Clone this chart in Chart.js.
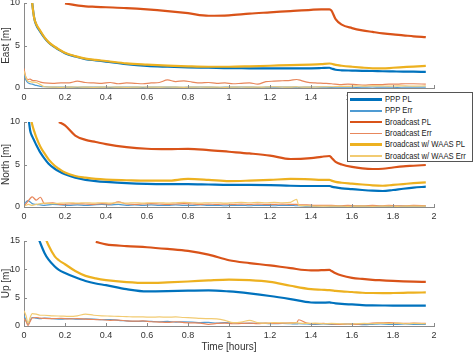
<!DOCTYPE html>
<html>
<head>
<meta charset="utf-8">
<script src="https://cdn.jsdelivr.net/npm/chart.js@4.4.1/dist/chart.umd.min.js"></script>
<style>
  html, body { margin: 0; padding: 0; background: #fff; }
  #wrap { position: relative; width: 474px; height: 353px; overflow: hidden; }
  canvas { position: absolute; left: 0; }
  #legend {
    position: absolute; left: 347px; top: 92px; width: 124px; height: 68px;
    border: 1px solid #555; background: #fff;
    font-family: "Liberation Sans", Arial, sans-serif; font-size: 9px; color: #222;
  }
  .row { position: absolute; left: 0; height: 11px; width: 124px; }
  .row i { position: absolute; left: 2px; width: 32px; top: 50%; }
  .row span { position: absolute; left: 37px; top: 0; line-height: 11px; white-space: nowrap;
    transform: scaleX(0.85); transform-origin: left center; }
</style>
</head>
<body>
<div id="wrap">
  <canvas id="eastChart" width="474" height="105" style="top:0px"></canvas>
  <canvas id="northChart" width="474" height="118" style="top:106px"></canvas>
  <canvas id="upChart" width="474" height="129" style="top:224px"></canvas>
  <div id="legend"></div>
</div>
<script>
// series names / colours
const seriesNames = ['PPP PL', 'PPP Err', 'Broadcast PL', 'Broadcast Err', 'Broadcast w/ WAAS PL', 'Broadcast w/ WAAS Err'];
const seriesColors = ['#0072BD', '#4F9BD3', '#D95319', '#E8875C', '#EDB120', '#F2CB72'];

// time axis (hours)
const plTime = [0.02,0.03,0.04,0.05,0.06,0.08,0.1,0.12,0.15,0.17,
  0.2,0.25,0.3,0.35,0.4,0.5,0.6,0.7,0.8,0.9,
  1.0,1.1,1.2,1.3,1.4,1.45,1.49,1.5,1.52,1.55,
  1.6,1.65,1.7,1.75,1.8,1.85,1.9,1.96];
const errTime = [0,0.01,0.02,0.03,0.04,0.06,0.08,0.1,0.14,0.18,0.22,
  0.26,0.3,0.34,0.38,0.42,0.46,0.5,0.54,0.58,0.62,0.66,
  0.7,0.74,0.78,0.82,0.86,0.9,0.94,0.98,1.02,1.06,1.1,
  1.14,1.18,1.22,1.26,1.3,1.33,1.34,1.38,1.42,1.46,1.5,
  1.54,1.58,1.62,1.66,1.7,1.74,1.78,1.82,1.86,1.9,1.96];

// East [m]
const eastPppPL = [15,12.5,10,8.2,7.4,6.6,5.9,5.35,4.8,4.5,
  4.1,3.7,3.4,3.25,3.1,2.8,2.6,2.5,2.42,2.38,
  2.33,2.32,2.3,2.3,2.32,2.35,2.38,2.3,2.15,2.08,
  2.05,2.02,2.0,1.97,1.95,1.93,1.92,1.9];
const eastPppErr = [1.6,0.9,0.6,0.5,0.45,0.3,0.2,0.15,0.1,0.12,0.1,
  0.08,0.1,0.12,0.1,0.08,0.1,0.12,0.1,0.08,0.1,0.12,
  0.1,0.1,0.08,0.1,0.12,0.1,0.08,0.1,0.1,0.12,0.1,
  0.08,0.1,0.1,0.12,0.1,0.1,0.08,0.1,0.12,0.1,0.08,
  0.1,0.1,0.08,0.1,0.12,0.1,0.1,0.08,0.1,0.1,0.1];
const eastBcPL = [null,null,null,null,null,null,null,null,null,null,
  9.95,9.75,9.6,9.55,9.5,9.4,9.25,9.05,8.8,8.5,
  8.55,8.75,8.9,9.05,9.2,9.25,9.25,9.1,8.1,7.45,
  7.05,6.78,6.6,6.43,6.3,6.2,6.08,5.98];
const eastBcErr = [2.3,1.2,1.0,1.05,0.9,0.85,0.7,0.6,0.55,0.6,0.6,
  0.8,0.65,0.6,0.55,0.65,0.5,0.6,0.55,0.5,0.6,0.65,
  0.95,0.75,0.85,0.7,0.6,0.65,0.55,0.6,0.5,0.55,0.6,
  0.45,0.75,0.8,0.85,0.9,1.0,0.95,0.7,0.6,0.55,0.5,
  0.4,0.45,0.4,0.35,0.4,0.4,0.45,0.45,0.5,0.5,0.45];
const eastWaasPL = [16,13,10,8.2,7.5,6.7,5.95,5.4,4.85,4.55,
  4.15,3.75,3.45,3.3,3.18,2.9,2.75,2.63,2.55,2.5,
  2.5,2.55,2.62,2.7,2.75,2.8,2.88,2.85,2.72,2.62,
  2.5,2.4,2.32,2.3,2.38,2.45,2.52,2.6];
const eastWaasErr = [2.0,1.2,0.8,0.75,0.7,0.65,0.4,0.15,0.1,0.08,0.1,
  0.12,0.1,0.08,0.1,0.12,0.1,0.08,0.1,0.12,0.1,0.1,
  0.12,0.1,0.08,0.1,0.12,0.1,0.1,0.08,0.1,0.12,0.1,
  0.1,0.12,0.15,0.12,0.1,0.15,0.12,0.1,0.12,0.15,0.15,
  0.2,0.2,0.25,0.22,0.25,0.25,0.22,0.25,0.25,0.22,0.25];

// North [m]
const northPppPL = [11,9.0,8.3,7.8,7.3,6.4,5.7,5.1,4.5,4.2,
  3.85,3.45,3.2,3.05,2.95,2.8,2.72,2.7,2.7,2.65,
  2.6,2.6,2.58,2.5,2.47,2.47,2.47,2.4,2.3,2.2,
  2.1,2.0,1.92,1.88,2.0,2.15,2.28,2.39];
const northPppErr = [0.3,0.6,0.75,0.6,0.4,0.3,0.25,0.2,0.3,0.25,0.2,
  0.25,0.2,0.25,0.3,0.25,0.3,0.2,0.25,0.2,0.25,0.2,
  0.2,0.25,0.2,0.2,0.25,0.2,0.2,0.15,0.2,0.2,0.15,
  0.2,0.2,0.15,0.2,0.2,0.15,0.15,0.1,0.1,0.15,0.1,
  0.1,0.1,0.1,0.1,0.1,0.1,0.08,0.1,0.1,0.1,0.1];
const northBcPL = [null,null,null,null,null,null,null,null,null,10.0,
  9.6,8.4,7.9,7.65,7.4,7.05,6.85,6.8,6.85,6.7,
  6.5,6.3,6.05,5.65,5.75,5.9,6.0,5.8,5.3,5.0,
  4.72,4.55,4.47,4.5,4.65,4.78,4.85,4.94];
const northBcErr = [0.1,0.4,0.7,1.0,1.2,0.8,1.15,0.4,0.5,0.3,0.35,
  0.4,0.35,0.3,0.4,0.35,0.6,0.35,0.3,0.35,0.4,0.35,
  0.3,0.35,0.4,0.35,0.3,0.35,0.3,0.35,0.3,0.35,0.3,
  0.35,0.3,0.3,0.35,0.3,0.3,0.25,0.25,0.2,0.2,0.2,
  0.15,0.2,0.15,0.15,0.2,0.15,0.2,0.15,0.15,0.2,0.15];
const northWaasPL = [13,11,9.7,8.9,8.2,7.1,6.3,5.6,4.85,4.5,
  4.05,3.65,3.45,3.3,3.22,3.15,3.1,3.1,3.3,3.2,
  3.05,3.1,3.18,3.3,3.25,3.2,3.2,3.1,2.95,2.85,
  2.75,2.65,2.55,2.5,2.6,2.7,2.8,2.9];
const northWaasErr = [0.1,0.2,0.3,0.25,0.2,0.3,0.4,0.45,0.4,0.45,0.5,
  0.45,0.5,0.45,0.5,0.45,0.5,0.45,0.5,0.45,0.5,0.5,
  0.45,0.5,0.55,0.5,0.45,0.5,0.5,0.45,0.5,0.55,0.5,
  0.55,0.5,0.55,0.5,0.55,0.9,0.2,0.15,0.1,0.1,0.1,
  0.1,0.08,0.1,0.1,0.08,0.1,0.1,0.08,0.1,0.1,0.1];

// Up [m]
const upPppPL = [25,22,20,18,16.6,14.6,12.9,11.7,10.5,9.9,
  9.35,8.6,7.95,7.5,7.2,6.5,6.1,6.15,6.25,6.3,
  6.1,5.75,5.3,4.75,4.15,4.12,4.16,4.1,4.0,3.9,
  3.8,3.7,3.65,3.62,3.6,3.6,3.6,3.6];
const upPppErr = [1.8,1.0,0.3,1.0,1.5,1.4,1.3,1.4,1.3,1.2,1.3,
  1.2,1.25,1.2,1.1,1.15,1.0,0.9,0.8,0.85,0.8,0.75,
  0.8,0.7,0.75,0.7,0.6,0.65,0.5,0.6,0.55,0.5,0.45,
  0.5,0.45,0.4,0.45,0.4,0.35,0.4,0.35,0.3,0.35,0.3,
  0.3,0.35,0.3,0.25,0.3,0.35,0.3,0.3,0.35,0.3,0.3];
const upBcPL = [null,null,null,null,null,null,null,null,null,null,
  null,null,null,14.85,14.4,14.1,13.9,13.6,13.25,12.6,
  11.6,11.1,10.7,10.2,9.8,9.85,9.9,9.7,9.3,8.9,
  8.5,8.3,8.15,8.05,7.95,7.88,7.83,7.79];
const upBcErr = [1.3,0.8,0.1,0.8,1.4,1.5,1.4,1.35,1.3,1.35,1.25,
  1.3,1.2,1.15,1.1,1.0,1.05,0.9,0.85,0.9,0.75,0.7,
  0.65,0.75,0.6,0.55,0.5,0.3,0.45,0.5,0.4,0.45,0.5,
  0.4,0.5,0.45,0.5,0.55,0.6,1.1,0.5,0.4,0.45,0.35,
  0.3,0.35,0.3,0.4,0.5,0.55,0.6,0.5,0.45,0.5,0.45];
const upWaasPL = [30,28,26,24,22,18.5,16,14.2,12.3,11.6,
  10.9,9.7,8.85,8.4,8.1,7.75,7.6,7.7,7.85,8.05,
  8.2,8.1,7.8,7.1,6.5,6.4,6.33,6.3,6.2,6.1,
  6.0,5.87,5.82,5.8,5.82,5.85,5.9,5.92];
const upWaasErr = [2.7,1.8,0.5,1.5,2.2,2.1,1.9,1.9,1.8,1.75,1.7,
  1.8,2.1,1.9,1.8,1.75,1.7,1.65,1.6,1.6,1.55,1.6,
  1.55,1.6,1.5,1.45,1.35,1.3,1.25,1.0,0.6,0.7,1.0,
  0.6,0.5,0.6,0.55,0.5,0.6,0.5,0.45,0.5,0.4,0.45,
  0.4,0.35,0.4,0.45,0.4,0.5,0.45,0.5,0.4,0.45,0.4];

const xTicks = { min: 0, max: 2, step: 0.2 };
const fontFamily = "'Liberation Sans', Arial, sans-serif";
const axisColor = '#8a8a8a';
const textColor = '#333';

function pts(times, vals) {
  return times.map((t, i) => ({ x: t, y: vals[i] }));
}

// MATLAB style: ticks pointing into the plot
const inwardTicks = {
  id: 'inwardTicks',
  afterDraw(chart) {
    const { ctx, chartArea, scales } = chart;
    ctx.save();
    ctx.strokeStyle = axisColor;
    ctx.lineWidth = 1;
    ctx.beginPath();
    scales.x.ticks.forEach(t => {
      const px = Math.round(scales.x.getPixelForValue(t.value)) + 0.5;
      ctx.moveTo(px, chartArea.bottom);
      ctx.lineTo(px, chartArea.bottom - 3);
    });
    scales.y.ticks.forEach(t => {
      const py = Math.round(scales.y.getPixelForValue(t.value)) + 0.5;
      ctx.moveTo(chartArea.left, py);
      ctx.lineTo(chartArea.left + 3, py);
    });
    ctx.stroke();
    ctx.restore();
  }
};

function makeChart(id, yTitle, yMax, rows, padTop, xHeight, xTitle) {
  const datasets = rows.map((r, i) => ({
    label: seriesNames[i],
    data: pts(i % 2 === 0 ? plTime : errTime, r),
    borderColor: seriesColors[i],
    borderWidth: i % 2 === 0 ? 2.2 : 1.2,
    pointRadius: 0,
    fill: false,
    cubicInterpolationMode: 'monotone',
    order: rows.length - i
  }));

  return new Chart(document.getElementById(id).getContext('2d'), {
    type: 'line',
    data: { datasets },
    options: {
      responsive: false,
      animation: false,
      layout: { padding: { top: padTop, right: 40, bottom: 0, left: 0 } },
      plugins: { legend: { display: false }, tooltip: { enabled: false } },
      scales: {
        x: {
          type: 'linear',
          min: xTicks.min,
          max: xTicks.max,
          grid: { display: false, drawTicks: false },
          border: { color: axisColor },
          ticks: { stepSize: xTicks.step, autoSkip: false, maxRotation: 0, padding: 4,
                   color: textColor, font: { family: fontFamily, size: 9 },
                   callback: v => String(Math.round(v * 10) / 10) },
          title: { display: !!xTitle, text: xTitle || '', padding: 0, color: textColor,
                   font: { family: fontFamily, size: 10 } },
          afterFit: s => { s.height = xHeight; }
        },
        y: {
          min: 0,
          max: yMax,
          grid: { display: false, drawTicks: false },
          border: { color: axisColor },
          ticks: { stepSize: 5, padding: 4, color: textColor, font: { family: fontFamily, size: 9 } },
          title: { display: true, text: yTitle, padding: 0, color: textColor,
                   font: { family: fontFamily, size: 10 } },
          afterFit: s => { s.width = 24; s.paddingTop = 0; s.paddingBottom = 0; }
        }
      }
    },
    plugins: [inwardTicks]
  });
}

makeChart('eastChart', 'East [m]', 10,
  [eastPppPL, eastPppErr, eastBcPL, eastBcErr, eastWaasPL, eastWaasErr], 3, 17);
makeChart('northChart', 'North [m]', 10,
  [northPppPL, northPppErr, northBcPL, northBcErr, northWaasPL, northWaasErr], 16, 17);
makeChart('upChart', 'Up [m]', 15,
  [upPppPL, upPppErr, upBcPL, upBcErr, upWaasPL, upWaasErr], 17, 27, 'Time [hours]');

// legend box overlaid on the middle panel
const legend = document.getElementById('legend');
seriesNames.forEach((name, i) => {
  const row = document.createElement('div');
  row.className = 'row';
  row.style.top = (1 + i * 11.3) + 'px';
  const line = document.createElement('i');
  const w = i % 2 === 0 ? 2.5 : 1.5;
  line.style.height = w + 'px';
  line.style.marginTop = (-w / 2) + 'px';
  line.style.background = seriesColors[i];
  const label = document.createElement('span');
  label.textContent = name;
  row.appendChild(line);
  row.appendChild(label);
  legend.appendChild(row);
});
</script>
</body>
</html>
